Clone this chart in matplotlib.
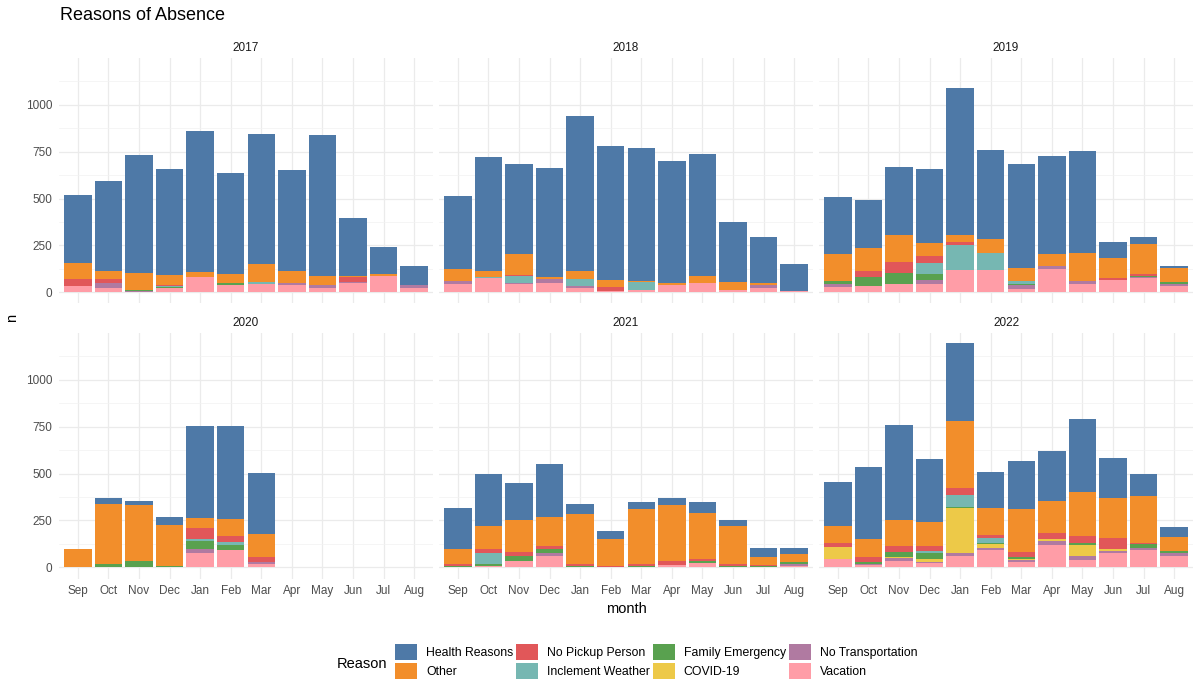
import numpy as np
import matplotlib
matplotlib.use("Agg")
import matplotlib.pyplot as plt
from matplotlib.patches import Patch

# =====================================
# Data (counts per month, Sep..Aug)
# =====================================

years = ["2017", "2018", "2019", "2020", "2021", "2022"]
months = ["Sep", "Oct", "Nov", "Dec", "Jan", "Feb",
          "Mar", "Apr", "May", "Jun", "Jul", "Aug"]

reasons = ["Health Reasons", "Other", "No Pickup Person", "Inclement Weather",
           "Family Emergency", "COVID-19", "No Transportation", "Vacation"]

colors = ["#4E79A7", "#F28E2B", "#E15759", "#76B7B2",
          "#59A14F", "#EDC948", "#B07AA1", "#FF9DA7"]

health = [
    [360, 478, 630, 563, 748, 536, 692, 536, 749, 308, 146, 103],
    [387, 605, 481, 579, 823, 715, 706, 651, 648, 322, 248, 145],
    [306, 260, 364, 393, 784, 475, 556, 524, 540, 88, 38, 11],
    [0, 32, 21, 43, 494, 500, 328, 0, 0, 0, 0, 0],
    [218, 280, 200, 287, 58, 42, 37, 42, 59, 32, 48, 32],
    [237, 388, 509, 339, 414, 191, 260, 266, 389, 218, 122, 53],
]
other = [
    [84, 42, 88, 53, 27, 48, 93, 64, 49, 8, 9, 0],
    [66, 32, 110, 12, 44, 34, 9, 11, 37, 39, 11, 0],
    [140, 119, 144, 68, 39, 71, 67, 62, 152, 103, 159, 78],
    [92, 319, 298, 214, 54, 90, 124, 0, 0, 0, 0, 0],
    [80, 124, 172, 154, 266, 144, 293, 298, 244, 202, 42, 42],
    [92, 96, 140, 129, 357, 144, 229, 175, 239, 213, 247, 75],
]
no_pickup = [
    [38, 25, 0, 6, 0, 0, 0, 0, 0, 23, 0, 0],
    [0, 0, 5, 0, 0, 21, 0, 0, 0, 0, 0, 0],
    [0, 32, 55, 42, 18, 0, 0, 0, 0, 14, 12, 0],
    [4, 0, 0, 0, 58, 30, 23, 0, 0, 0, 0, 0],
    [8, 22, 21, 16, 8, 5, 8, 20, 10, 8, 6, 0],
    [18, 25, 32, 27, 37, 16, 27, 32, 37, 58, 9, 0],
]
inclement = [
    [0, 0, 0, 5, 0, 0, 15, 0, 0, 0, 0, 0],
    [0, 9, 36, 0, 37, 0, 39, 0, 0, 0, 0, 0],
    [0, 0, 0, 58, 131, 92, 14, 0, 0, 0, 0, 0],
    [0, 0, 0, 0, 7, 16, 0, 0, 0, 0, 0, 0],
    [0, 58, 0, 0, 0, 0, 0, 0, 0, 0, 0, 0],
    [0, 0, 0, 9, 66, 26, 0, 0, 0, 0, 0, 0],
]
family = [
    [0, 0, 5, 5, 0, 12, 0, 0, 0, 0, 0, 0],
    [0, 0, 0, 0, 0, 0, 0, 0, 0, 0, 0, 0],
    [18, 48, 62, 32, 0, 0, 7, 0, 0, 0, 7, 9],
    [0, 16, 32, 9, 46, 27, 0, 0, 0, 0, 0, 0],
    [8, 9, 25, 18, 8, 0, 8, 0, 10, 8, 5, 10],
    [0, 8, 27, 33, 3, 9, 10, 0, 11, 0, 21, 11],
]
covid = [
    [0, 0, 0, 0, 0, 0, 0, 0, 0, 0, 0, 0],
    [0, 0, 0, 0, 0, 0, 0, 0, 0, 0, 0, 0],
    [0, 0, 0, 0, 0, 0, 0, 0, 0, 0, 0, 0],
    [0, 0, 0, 0, 0, 0, 0, 0, 0, 0, 0, 0],
    [0, 0, 0, 0, 0, 0, 0, 0, 0, 0, 0, 0],
    [64, 0, 2, 13, 243, 18, 6, 11, 58, 9, 0, 0],
]
no_transport = [
    [0, 23, 5, 0, 0, 0, 0, 12, 18, 9, 0, 14],
    [18, 0, 9, 23, 13, 0, 0, 0, 0, 0, 12, 0],
    [17, 0, 0, 18, 0, 0, 21, 16, 16, 0, 6, 10],
    [0, 0, 0, 0, 18, 0, 10, 0, 0, 0, 0, 0],
    [0, 0, 0, 19, 0, 0, 0, 0, 0, 0, 0, 8],
    [3, 9, 19, 7, 14, 13, 7, 19, 20, 9, 9, 14],
]
vacation = [
    [35, 25, 3, 25, 83, 39, 42, 39, 21, 48, 87, 25],
    [42, 74, 42, 48, 21, 9, 14, 37, 51, 14, 25, 7],
    [27, 35, 42, 46, 120, 120, 18, 124, 44, 64, 74, 34],
    [0, 0, 0, 0, 78, 92, 20, 0, 0, 0, 0, 0],
    [0, 7, 34, 59, 0, 0, 0, 12, 23, 0, 0, 9],
    [43, 11, 32, 23, 60, 92, 30, 119, 39, 78, 92, 60],
]

series = [health, other, no_pickup, inclement, family, covid, no_transport, vacation]

# =====================================
# Figure
# =====================================

plt.rcParams["font.family"] = ["Liberation Sans", "DejaVu Sans"]

W, H = 1200, 700
fig = plt.figure(figsize=(12, 7), dpi=100)

col_left = [59.4, 439.4, 819.4]
panel_w = 373.2
row_top = [58, 333]
panel_h = 245.5

x = np.arange(1, 13)

for i, year in enumerate(years):
    r, c = divmod(i, 3)
    ax = fig.add_axes([col_left[c] / W, 1 - (row_top[r] + panel_h) / H,
                       panel_w / W, panel_h / H])

    # stack from the bottom: last reason first
    bottom = np.zeros(12)
    for k in range(len(reasons) - 1, -1, -1):
        vals = np.array(series[k][i], dtype=float)
        ax.bar(x, vals, width=0.9, bottom=bottom, color=colors[k],
               linewidth=0, zorder=3)
        bottom += vals

    ax.set_xlim(0.4, 12.6)
    ax.set_ylim(-60, 1250)
    ax.set_xticks(x)
    ax.set_yticks([0, 250, 500, 750, 1000])
    ax.set_yticks([125, 375, 625, 875, 1125], minor=True)
    ax.grid(which="major", color="#EBEBEB", linewidth=0.9, zorder=0)
    ax.grid(which="minor", axis="y", color="#F2F2F2", linewidth=0.5, zorder=0)
    ax.set_axisbelow(True)
    for s in ax.spines.values():
        s.set_visible(False)
    ax.tick_params(which="both", length=0, labelsize=8.5, colors="#4D4D4D", pad=5)

    if r == 1:
        ax.set_xticklabels(months)
    else:
        ax.set_xticklabels([])
    if c != 0:
        ax.set_yticklabels([])

    ax.set_title(year, fontsize=8.5, color="#1A1A1A", pad=5)

# =====================================
# Labels
# =====================================

fig.text(60 / W, 1 - 16 / H, "Reasons of Absence", fontsize=13,
         ha="left", va="center", color="black")
fig.text(626 / W, 1 - 609 / H, "month", fontsize=10.5, ha="center", va="center")
fig.text(12 / W, 1 - 318 / H, "n", fontsize=10.5, ha="center", va="center",
         rotation=90)

# =====================================
# Legend
# =====================================

handles = [Patch(facecolor=colors[k], edgecolor="none", label=reasons[k])
           for k in range(len(reasons))]
fig.legend(handles=handles, ncol=4, loc="center left",
           bbox_to_anchor=(389 / W, 1 - 661.5 / H), frameon=False,
           fontsize=8.8, handlelength=1.8, handleheight=1.62, labelspacing=0.24,
           handletextpad=0.72, columnspacing=0.25, borderpad=0)
fig.text(362 / W, 1 - 664 / H, "Reason", fontsize=10.5, ha="center", va="center")

fig.savefig("out.png", dpi=100)
